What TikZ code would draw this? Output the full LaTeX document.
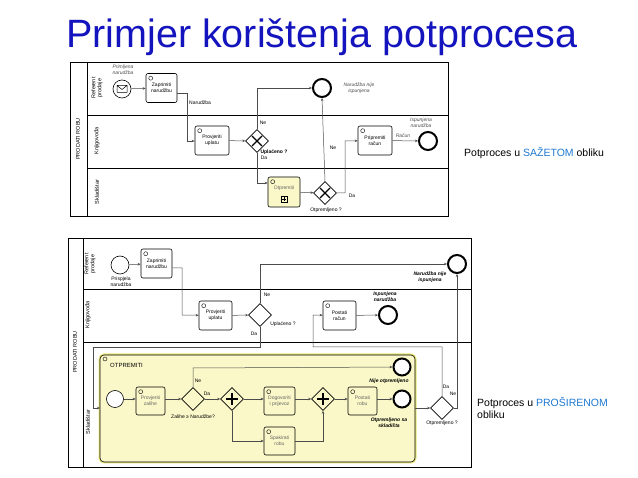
\documentclass[tikz,border=0pt]{standalone}
\usepackage{fontspec}
\setmainfont{Liberation Sans}
\usetikzlibrary{shapes.geometric,arrows.meta}
\definecolor{ttl}{RGB}{20,20,190}
\definecolor{hl}{RGB}{30,120,210}
\definecolor{sub}{RGB}{250,248,200}
\definecolor{glow}{RGB}{235,230,120}
\tikzset{
  fl/.style={draw=black!70, line width=0.5pt, -{Stealth[length=3pt,width=2.5pt]}},
  task/.style={draw, rounded corners=2pt, line width=0.6pt, fill=white, minimum width=32pt, minimum height=29pt, align=center, font=\fontsize{5}{6}\selectfont, inner sep=1pt},
  gw/.style={draw, diamond, line width=0.6pt, fill=white, minimum size=23pt, inner sep=0pt},
  sev/.style={draw, circle, line width=0.6pt, fill=white, minimum size=18pt, inner sep=0pt},
  eev/.style={draw, circle, line width=2pt, fill=white, minimum size=18pt, inner sep=0pt},
  lbl/.style={font=\fontsize{5}{6}\selectfont, align=center, inner sep=0pt},
  blbl/.style={font=\fontsize{5}{6}\selectfont\bfseries\itshape, align=center, inner sep=0pt},
  ilbl/.style={font=\fontsize{5}{6}\selectfont\itshape, text=black!70, align=center, inner sep=0pt},
  lane/.style={font=\fontsize{5.5}{6}\selectfont, rotate=90, align=center, inner sep=0pt},
  usr/.style={draw, circle, line width=0.4pt, minimum size=4pt, inner sep=0pt}
}
\begin{document}
\begin{tikzpicture}[x=1pt,y=-1pt]
\useasboundingbox (0,0) rectangle (638,478);
% title
\node[anchor=base west, font=\fontsize{39.5}{41}\selectfont, text=ttl, inner sep=0pt] (title) at (66,48) {Primjer korištenja potprocesa};

% ================= top diagram =================
\draw[line width=0.8pt] (70,62) rectangle (448,216);
\draw (87,62) -- (87,216);
\draw (87,115) -- (448,115);
\draw (87,168) -- (448,168);
\node[lane] (pool1) at (78,139) {PRODATI ROBU};
\node[lane] (l11) at (97,88) {Referent\\prodaje};
\node[lane] (l12) at (97,141) {Knjigovođa};
\node[lane] (l13) at (97,192) {Skladištar};

\node[sev] (t_st) at (122,89) {};
\draw[line width=0.5pt] (117,85.5) rectangle (127,92.5) (117,85.5) -- (122,89.5) -- (127,85.5);
\node[ilbl] (t_stl) at (123,70) {Primljena\\narudžba};
\node[task, minimum width=31pt] (t_zap) at (161.5,88) {Zaprimiti\\narudžbu};
\node[task, minimum width=34pt] (t_pro) at (212,140.5) {Provjeriti\\uplatu};
\node[gw] (t_g1) at (257,141) {};
\draw[line width=1.3pt] (252,136) -- (262,146) (252,146) -- (262,136);
\node[eev] (t_e1) at (322,88) {};
\node[ilbl] (t_e1l) at (359,88) {Narudžba nije\\ispunjena};
\node[task, fill=sub, text=black!60, minimum width=32pt, minimum height=30pt] (t_otp) at (284,192) {Otpremiti\\[3pt]\ };
\draw[line width=0.4pt] (281,196.5) rectangle (287,202.5) (284,197.5) -- (284,201.5) (282,199.5) -- (286,199.5);
\node[gw] (t_g2) at (325,193) {};
\draw[line width=1.3pt] (320,188) -- (330,198) (320,198) -- (330,188);
\node[task, minimum width=34pt] (t_pri) at (375,140.5) {Pripremiti\\račun};
\node[eev] (t_e2) at (428,141) {};
\node[ilbl] (t_e2l) at (421,123) {Ispunjena\\narudžba};
\foreach \n in {t_zap,t_pro,t_pri} \node[usr] at ([xshift=5pt,yshift=-5pt]\n.north west) {};
\node[usr] at ([xshift=5pt,yshift=-5pt]t_otp.north west) {};

\draw[fl] (t_st) -- (t_zap);
\draw[fl] (t_zap.east |- 0,93) -- (187,93) -- (187,141) -- (t_pro.west |- 0,141);
\node[lbl, anchor=west] (t_nar) at (189,103) {Narudžba};
\draw[fl] (t_pro) -- (t_g1);
\draw[fl] (t_g1.north) -- (257,88) -- (t_e1);
\node[lbl] (t_ne1) at (263,123) {Ne};
\draw[fl] (t_g1.south) -- (257,183) -- (t_otp.west |- 0,183);
\node[lbl, font=\fontsize{5}{6}\selectfont\bfseries] (t_upl) at (274,152) {Uplaćeno ?};
\node[lbl] (t_da1) at (264,158) {Da};
\draw[fl] (t_otp) -- (t_g2);
\draw[fl] (t_g2.north) -- (t_e1.south);
\node[lbl] (t_ne2) at (333,148) {Ne};
\draw[fl] (t_g2.east) -- (345,193) -- (345,141) -- (t_pri);
\node[lbl] (t_da2) at (352,196) {Da};
\node[lbl] (t_otq) at (326,210) {Otpremljeno ?};
\draw[fl] (t_pri) -- (t_e2);
\node[ilbl] (t_rac) at (403,136) {Račun};

\node[anchor=west, font=\fontsize{10.5}{12}\selectfont, inner sep=0pt] (txt1) at (464,153) {Potproces u \textcolor{hl}{SAŽETOM} obliku};

% ================= bottom diagram =================
\draw[line width=0.8pt] (68,238) rectangle (471,467);
\draw (83,238) -- (83,467);
\draw (83,289) -- (471,289);
\draw (83,342) -- (471,342);
\node[lane] (pool2) at (75,352) {PRODATI ROBU};
\node[lane] (l21) at (90,264) {Referent\\prodaje};
\node[lane] (l22) at (88,315) {Knjigovođa};
\node[lane] (l23) at (88,422) {Skladištar};

% subprocess
\draw[glow, line width=3pt, rounded corners=4pt] (100,355) rectangle (415,462);
\draw[fill=sub, line width=0.6pt, rounded corners=4pt] (100,355) rectangle (415,462);
\node[usr] (subicon) at (105,359) {};
\node[anchor=west, font=\fontsize{6}{7}\selectfont, inner sep=0pt] (subttl) at (110,365) {OTPREMITI};

\node[sev] (b_st) at (120,265) {};
\node[lbl] (b_stl) at (121,282) {Prispjela\\narudžba};
\node[task, minimum width=31pt] (b_zap) at (156.5,263.5) {Zaprimiti\\narudžbu};
\node[task, minimum width=33pt] (b_pro) at (215.5,315.5) {Provjeriti\\uplatu};
\node[gw] (b_g1) at (260,315) {};
\node[eev] (b_e1) at (457,264) {};
\node[blbl] (b_e1l) at (430,277) {Narudžba nije\\ispunjena};
\node[task, minimum width=33pt] (b_pos) at (339.5,315.5) {Postati\\račun};
\node[eev] (b_e2) at (388,315) {};
\node[blbl] (b_e2l) at (385,297) {Ispunjena\\narudžba};
\node[gw] (b_g2) at (442,408) {};
\node[lbl] (b_otq) at (442,423) {Otpremljeno ?};

% inside subprocess
\node[sev, minimum size=17pt] (s_st) at (115,399) {};
\node[task, fill=sub, text=black!60, minimum width=29pt, minimum height=28pt] (s_zal) at (150.5,401) {Provjeriti\\zalihe};
\node[gw, fill=sub] (s_g1) at (193,399) {};
\node[gw, fill=sub] (s_p1) at (232,399) {};
\draw[line width=1.6pt] (232,393) -- (232,405) (226,399) -- (238,399);
\node[task, fill=sub, text=black!60, minimum width=31pt, minimum height=28pt] (s_dog) at (279.5,401) {Dogovoriti\\i prijevoz};
\node[task, fill=sub, text=black!60, minimum width=31pt, minimum height=28pt] (s_spa) at (279.5,441) {Spakirati\\robu};
\node[gw, fill=sub] (s_p2) at (323,399) {};
\draw[line width=1.6pt] (323,393) -- (323,405) (317,399) -- (329,399);
\node[task, fill=sub, text=black!60, minimum width=29pt, minimum height=28pt] (s_pos) at (362.5,401) {Postati\\robu};
\node[eev, minimum size=17pt] (s_e1) at (402,367) {};
\node[eev, minimum size=17pt] (s_e2) at (402,399) {};
\node[blbl] (s_e1l) at (389,381) {Nije otpremljeno};
\node[blbl] (s_e2l) at (389,423) {Otpremljeno sa\\skladišta};
\node[lbl] (s_q) at (193,417) {Zalihe ≥ Narudžbe?};
\node[lbl] (s_ne) at (198,381) {Ne};
\node[lbl] (s_da) at (207,394) {Da};
\foreach \n in {b_zap,b_pro,b_pos,s_zal,s_dog,s_spa,s_pos} \node[usr] at ([xshift=5pt,yshift=-5pt]\n.north west) {};

\draw[fl] (b_st) -- (b_zap);
\draw[fl] (b_zap.east |- 0,268) -- (182,268) -- (182,315) -- (b_pro);
\draw[fl] (b_pro) -- (b_g1);
\draw[fl] (b_g1.north) -- (260,264) -- (b_e1);
\node[lbl] (b_ne1) at (267,295) {Ne};
\node[lbl] (b_upl) at (283,324) {Uplaćeno ?};
\node[lbl] (b_da1) at (254,334) {Da};
\draw[fl] (b_g1.south) -- (260,347) -- (93,347) -- (93,408) -- (100,408);
\draw[fl] (415,408) -- (b_g2.west);
\draw[fl] (b_g2.north) -- (442,347) -- (313,347) -- (313,315) -- (b_pos);
\draw[fl] (b_g2.east) -- (457,408) -- (b_e1.south);
\node[lbl] (b_da2) at (446,387) {Da};
\node[lbl] (b_ne2) at (453,394) {Ne};
\draw[fl] (b_pos) -- (b_e2);

\draw[fl] (s_st) -- (s_zal.west |- 0,399);
\draw[fl] (s_zal.east |- 0,399) -- (s_g1);
\draw[fl] (s_g1) -- (s_p1);
\draw[fl] (s_g1.north) -- (193,368) -- (s_e1);
\draw[fl] (s_p1) -- (s_dog.west |- 0,399);
\draw[fl] (s_p1.south) -- (232,441) -- (s_spa);
\draw[fl] (s_dog.east |- 0,399) -- (s_p2);
\draw[fl] (s_spa) -- (323,441) -- (s_p2.south);
\draw[fl] (s_p2) -- (s_pos.west |- 0,399);
\draw[fl] (s_pos.east |- 0,399) -- (s_e2);

\node[anchor=west, font=\fontsize{10.5}{12}\selectfont, inner sep=0pt, align=left] (txt2) at (477,408) {Potproces u \textcolor{hl}{PROŠIRENOM}\\obliku};
\end{tikzpicture}
\end{document}
